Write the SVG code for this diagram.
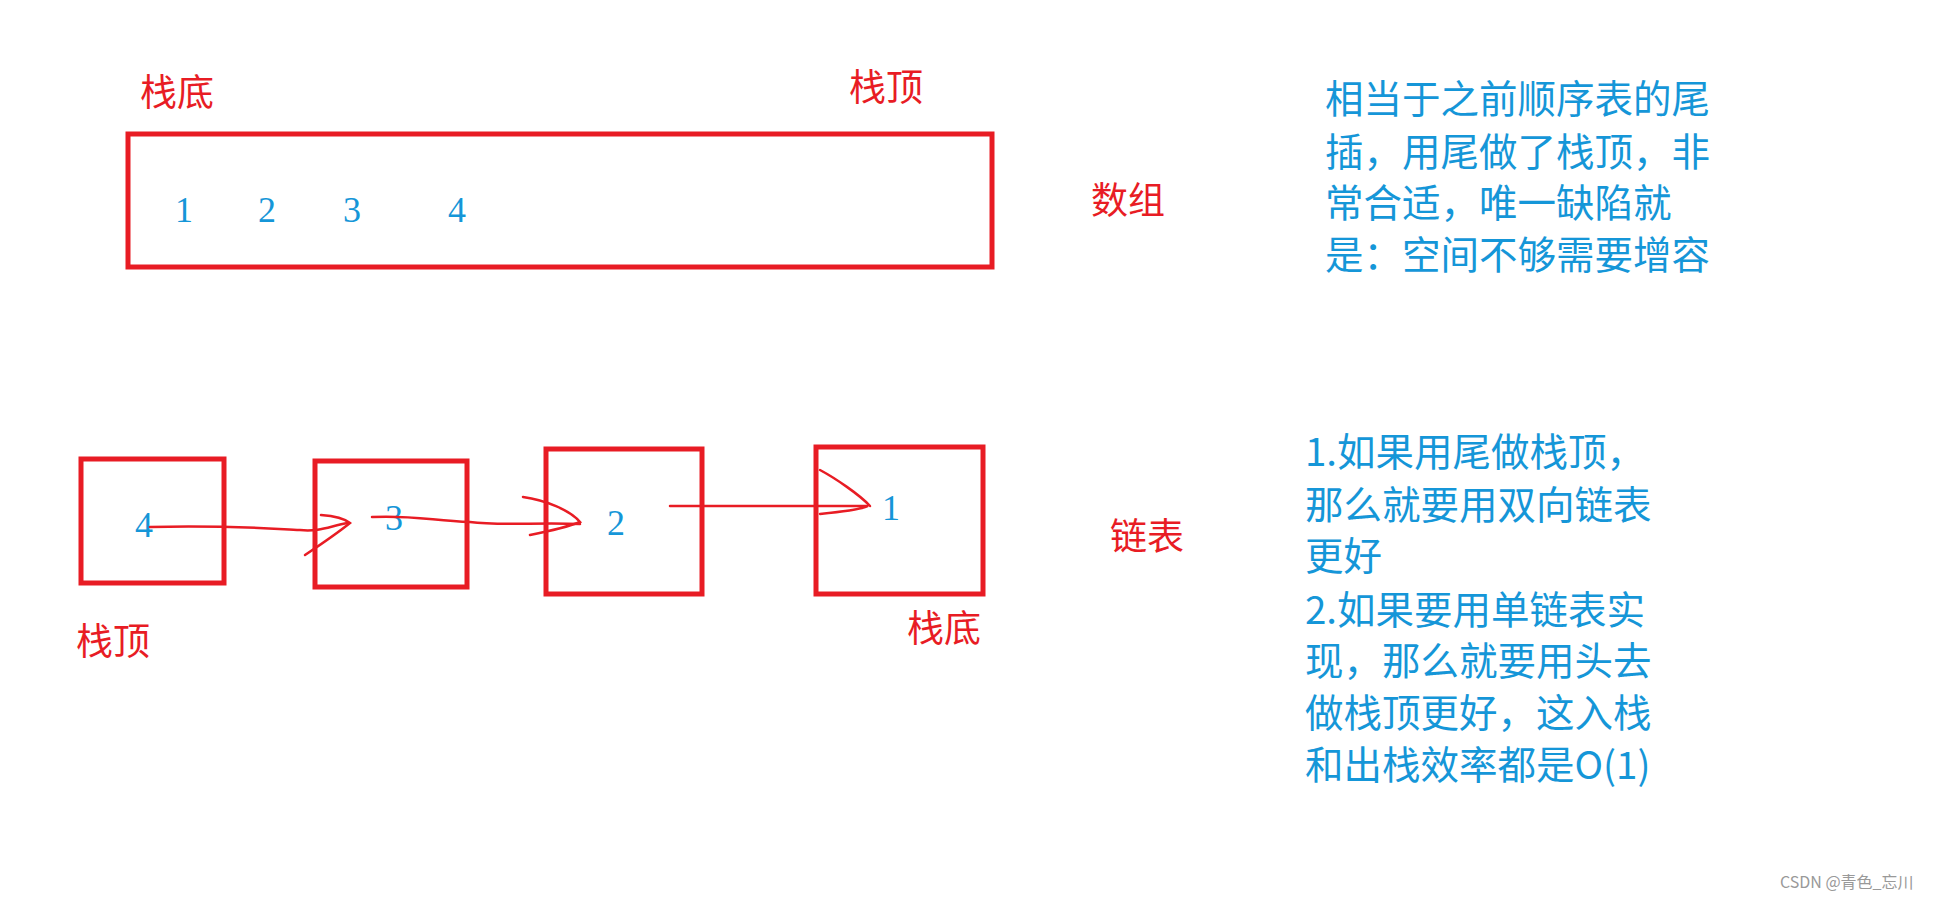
<svg xmlns="http://www.w3.org/2000/svg" width="1949" height="900" viewBox="0 0 1949 900">
<style>
.r{fill:#e81c24;font-family:"Noto Sans CJK SC",sans-serif;font-size:37px}
.b{fill:#1596d8;font-family:"Noto Sans CJK SC",sans-serif;font-size:38.5px}
.n{fill:#1596d8;font-family:"Liberation Serif",serif;font-size:36px}
.box{fill:none;stroke:#e81c24;stroke-width:5}
.ln{fill:none;stroke:#e81c24;stroke-width:2.5;stroke-linecap:round}
</style>
<rect width="1949" height="900" fill="#fff"/>
<g id="array">
<rect class="box" x="128" y="134" width="864" height="133"/>
<text class="n" x="175" y="222">1</text><text class="n" x="258" y="222">2</text>
<text class="n" x="343" y="222">3</text><text class="n" x="448" y="222">4</text>
</g>
<g id="labels">
<text class="r" x="140" y="106">栈底</text>
<text class="r" x="849" y="101">栈顶</text>
<text class="r" x="1091" y="214">数组</text>
<text class="r" x="1110" y="550">链表</text>
<text class="r" x="76" y="655">栈顶</text>
<text class="r" x="907" y="642">栈底</text>
</g>
<g id="note1" class="b">
<text x="1325" y="113">相当于之前顺序表的尾</text>
<text x="1325" y="166">插，用尾做了栈顶，非</text>
<text x="1325" y="217">常合适，唯一缺陷就</text>
<text x="1325" y="269">是：空间不够需要增容</text>
</g>
<g id="note2" class="b">
<text x="1305" y="466">1.如果用尾做栈顶，</text>
<text x="1305" y="519">那么就要用双向链表</text>
<text x="1305" y="570">更好</text>
<text x="1305" y="624">2.如果要用单链表实</text>
<text x="1305" y="675">现，那么就要用头去</text>
<text x="1305" y="727">做栈顶更好，这入栈</text>
<text x="1305" y="779">和出栈效率都是O(1)</text>
</g>
<g id="n4"><rect class="box" x="81" y="459" width="143" height="124"/><text class="n" x="135" y="537">4</text></g>
<g id="n3"><rect class="box" x="315" y="461" width="152" height="126"/><text class="n" x="385" y="530">3</text></g>
<g id="n2"><rect class="box" x="546" y="449" width="156" height="145"/><text class="n" x="607" y="535">2</text></g>
<g id="n1"><rect class="box" x="816" y="447" width="167" height="147"/><text class="n" x="882" y="520">1</text></g>
<g id="connectors">
<path class="ln" d="M150 527 C220 525 260 528 300 530 C320 532 330 526 348 523"/>
<path class="ln" d="M321 515 C335 516 345 519 350 523 C335 535 320 545 305 555"/>
<path class="ln" d="M372 517 C410 515 430 520 470 522 C500 526 540 522 580 524"/>
<path class="ln" d="M523 497 C545 500 570 510 580 522 C565 528 545 532 530 535"/>
<path class="ln" d="M670 506 L868 506 C860 510 840 512 820 514"/>
<path class="ln" d="M820 470 C835 478 860 495 870 506"/>
</g>
<text x="1780" y="888" style="fill:#999;font-family:'Noto Sans CJK SC',sans-serif;font-size:16px">CSDN @青色_忘川</text>
</svg>
